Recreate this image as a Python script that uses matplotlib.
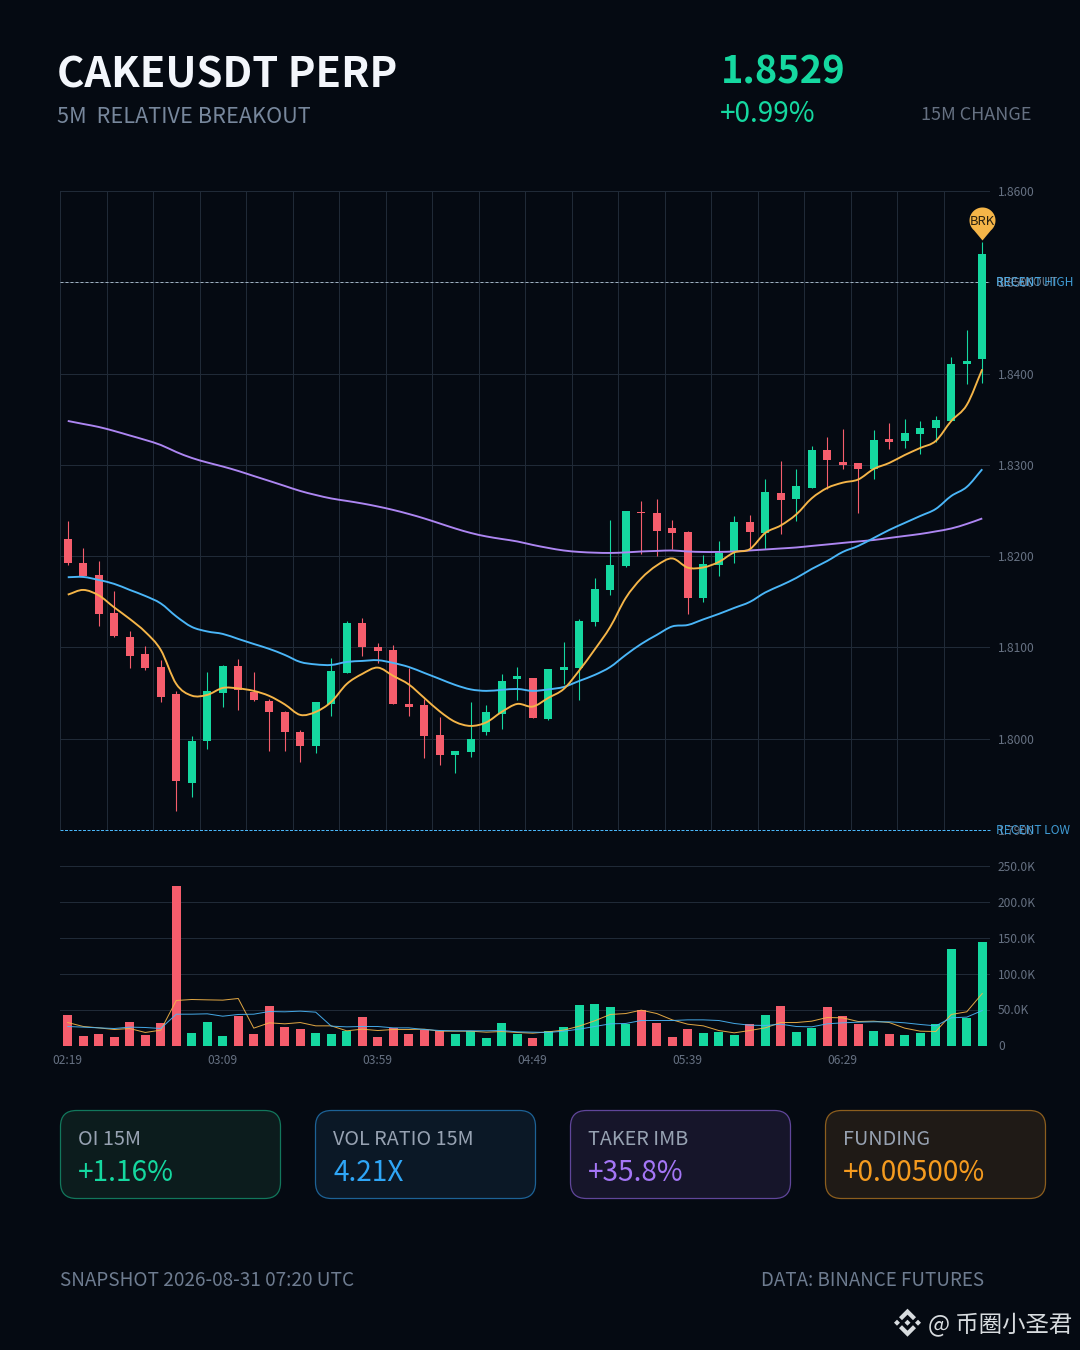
import numpy as np
import matplotlib
matplotlib.use('Agg')
import matplotlib.pyplot as plt
from matplotlib.patches import FancyBboxPatch, Polygon, PathPatch
from matplotlib.path import Path

plt.rcParams['font.family'] = ['Noto Sans CJK SC', 'DejaVu Sans']

# candles
opens = [1.8219,1.8193,1.8179,1.8138,1.8111,1.8093,1.8079,1.8049,1.7951,1.7998,
         1.8050,1.8080,1.8051,1.8041,1.8029,1.8007,1.7992,1.8038,1.8072,1.8127,
         1.8101,1.8097,1.8038,1.8037,1.8004,1.7982,1.7985,1.8007,1.8027,1.8065,
         1.8067,1.8022,1.8075,1.8077,1.8128,1.8163,1.8189,1.8248,1.8247,1.8231,
         1.8226,1.8154,1.8190,1.8205,1.8237,1.8225,1.8269,1.8263,1.8275,1.8316,
         1.8303,1.8302,1.8296,1.8328,1.8326,1.8334,1.8340,1.8348,1.8410,1.8416]
highs = [1.8239,1.8209,1.8195,1.8162,1.8118,1.8102,1.8086,1.8052,1.8003,1.8073,
         1.8081,1.8087,1.8073,1.8043,1.8030,1.8009,1.8040,1.8088,1.8129,1.8132,
         1.8105,1.8103,1.8078,1.8043,1.8024,1.7987,1.8040,1.8037,1.8071,1.8079,
         1.8067,1.8076,1.8106,1.8131,1.8176,1.8240,1.8249,1.8260,1.8263,1.8240,
         1.8228,1.8201,1.8217,1.8244,1.8245,1.8285,1.8304,1.8296,1.8321,1.8331,
         1.8339,1.8302,1.8338,1.8346,1.8350,1.8348,1.8354,1.8418,1.8448,1.8544]
lows = [1.8190,1.8178,1.8123,1.8111,1.8078,1.8075,1.8040,1.7921,1.7936,1.7989,
        1.8035,1.8031,1.8041,1.7986,1.7987,1.7975,1.7984,1.8025,1.8072,1.8091,
        1.8083,1.8038,1.8025,1.7979,1.7971,1.7962,1.7980,1.8004,1.8011,1.8042,
        1.8023,1.8021,1.8060,1.8042,1.8123,1.8157,1.8188,1.8202,1.8200,1.8208,
        1.8137,1.8150,1.8178,1.8192,1.8209,1.8208,1.8224,1.8238,1.8275,1.8274,
        1.8295,1.8247,1.8284,1.8317,1.8318,1.8312,1.8325,1.8348,1.8389,1.8390]
closes = [1.8192,1.8178,1.8137,1.8113,1.8091,1.8078,1.8046,1.7954,1.7998,1.8052,
          1.8080,1.8053,1.8042,1.8029,1.8007,1.7992,1.8040,1.8074,1.8127,1.8101,
          1.8096,1.8038,1.8035,1.8003,1.7982,1.7986,1.8000,1.8029,1.8063,1.8069,
          1.8023,1.8076,1.8079,1.8129,1.8164,1.8190,1.8249,1.8247,1.8227,1.8225,
          1.8154,1.8191,1.8203,1.8237,1.8226,1.8270,1.8261,1.8277,1.8316,1.8305,
          1.8300,1.8295,1.8327,1.8325,1.8335,1.8340,1.8349,1.8411,1.8414,1.8531]

ema_fast = [1.81578,1.8163,1.8157,1.81438,1.81312,1.8117,1.80973,1.806,1.80472,1.8048,
            1.80556,1.80551,1.80524,1.80469,1.80376,1.80261,1.80294,1.80403,1.806,1.8071,
            1.80779,1.80688,1.80595,1.80447,1.80299,1.80184,1.8014,1.80179,1.80294,1.80381,
            1.80352,1.80447,1.80545,1.80748,1.80978,1.81225,1.81542,1.81756,1.81898,1.81975,
            1.81874,1.81876,1.81936,1.82041,1.82076,1.82254,1.82336,1.82457,1.82634,1.82747,
            1.82805,1.8284,1.82955,1.83021,1.83108,1.83185,1.83262,1.83481,1.83656,1.84047]
ema_mid = [1.81769,1.81772,1.81739,1.81696,1.8163,1.81564,1.81482,1.8134,1.81225,1.81175,
           1.81148,1.81093,1.81038,1.80984,1.80918,1.80841,1.80814,1.80808,1.80841,1.80852,
           1.8086,1.8083,1.80786,1.80721,1.80655,1.80589,1.8054,1.80524,1.80535,1.80545,
           1.80524,1.8054,1.80567,1.80633,1.80699,1.80786,1.80918,1.81038,1.81137,1.8123,
           1.81246,1.81307,1.81367,1.81433,1.81498,1.81602,1.81679,1.81761,1.8186,1.81947,
           1.82046,1.82112,1.82199,1.82287,1.82364,1.8244,1.82517,1.82659,1.82758,1.82952]
ema_slow = [1.83481,1.83448,1.83415,1.83371,1.83322,1.83273,1.83218,1.83141,1.83076,1.83026,
            1.82982,1.82933,1.82878,1.82824,1.82769,1.82714,1.8267,1.82632,1.82605,1.82577,
            1.82544,1.82506,1.82462,1.82413,1.82358,1.82303,1.82254,1.82216,1.82188,1.82161,
            1.82123,1.8209,1.82062,1.82046,1.82038,1.82035,1.82041,1.82051,1.82057,1.82062,
            1.82051,1.82046,1.82046,1.82051,1.82062,1.82073,1.82084,1.82095,1.82112,1.82128,
            1.82145,1.82161,1.82177,1.82199,1.82221,1.82243,1.82271,1.82303,1.82353,1.82413]

# volume in thousands
volume = [42.1,13,15.7,12.5,33.3,14.4,30.6,221.8,17.6,32,
          13.4,41.2,15.3,54.2,25.9,23.1,16.7,15.7,20.4,38.9,
          11.6,24.5,15.7,21.8,20.4,15.7,19.9,10.2,31.5,15.3,
          10.2,19.9,25.5,56.9,57.9,52.8,29.2,49.5,31.5,12.5,
          23.6,16.7,18.5,14.8,30.1,43,54.2,18.5,24.5,53.2,
          40.7,30.1,19.9,15.7,13.9,18,30.1,134.7,38.4,143.5]
vol_fast = [31.9,26.4,24.5,22.2,23.6,18.1,21.3,62.5,63.9,63.4,
            63,65.3,24.1,31.5,30.1,31.9,27.3,27.3,20.4,22.7,
            20.8,22.2,22.2,22.7,19.9,19.9,19.9,18.5,19.4,18.1,
            17.1,19,21.3,26.9,34.3,43.1,44.4,49.1,44.4,35.6,
            29.6,27.3,20.8,17.6,20.8,24.5,31.9,31.9,33.8,38.9,
            38.4,33.3,33.8,31.9,24.1,19.9,19.4,43.1,46.8,72.2]
vol_slow = [26.4,25.5,24.5,23.6,25.5,25,23.6,43.5,43.5,44,
            40.7,43.1,43.5,47.2,46.8,47.7,46.3,26.9,25.9,26.4,
            26.4,24.5,24.5,22.2,20.8,20.4,20.4,20.4,20.8,19,
            18.5,18.1,19.9,22.7,26.4,30.1,30.6,34.7,34.7,34.7,
            35.6,35.6,34.7,30.6,28.2,27.8,29.6,26.4,25.9,30.1,
            31.5,32.4,32.9,32.9,31.5,29.2,27.3,38.4,39.4,48.6]

time_idx = [0, 10, 20, 30, 40, 50]
time_labels = ['02:19', '03:09', '03:59', '04:49', '05:39', '06:29']
price_ticks = [1.79, 1.80, 1.81, 1.82, 1.83, 1.84, 1.85, 1.86]
vol_ticks = [0, 50, 100, 150, 200, 250]
vol_tick_labels = ['0', '50.0K', '100.0K', '150.0K', '200.0K', '250.0K']
recent_high = 1.85
recent_low = 1.79

card_titles = ['OI 15M', 'VOL RATIO 15M', 'TAKER IMB', 'FUNDING']
card_values = ['+1.16%', '4.21X', '+35.8%', '+0.00500%']

BG = '#050a12'
GREEN = '#15d8a0'
RED = '#f55d6c'
GRID = '#202a37'
TICK = '#667182'
BLUE = '#4ab6f8'
ORANGE = '#f5b548'
PURPLE = '#ad86f2'

W, H = 1080, 1350
fig = plt.figure(figsize=(W / 100, H / 100), dpi=100, facecolor=BG)


def px(size):
    return size * 0.72


def rect(x0, y0, x1, y1):
    return [x0 / W, 1 - y1 / H, (x1 - x0) / W, (y1 - y0) / H]


def smooth_line(axis, xs, ys, color, lw, zorder):
    # same points, curved joins like the original's smoothed lines
    xs = np.asarray(xs, float)
    ys = np.asarray(ys, float)
    dy = np.gradient(ys)
    verts = [(xs[0], ys[0])]
    codes = [Path.MOVETO]
    for i in range(len(xs) - 1):
        verts += [(xs[i] + 1 / 3, ys[i] + dy[i] / 3),
                  (xs[i + 1] - 1 / 3, ys[i + 1] - dy[i + 1] / 3),
                  (xs[i + 1], ys[i + 1])]
        codes += [Path.CURVE4] * 3
    axis.add_patch(PathPatch(Path(verts, codes), fc='none', ec=color, lw=lw, zorder=zorder))


# page layer in pixel coordinates
page = fig.add_axes([0, 0, 1, 1])
page.set_xlim(0, W)
page.set_ylim(H, 0)
page.axis('off')

page.text(57, 88, 'CAKEUSDT PERP', color='#f3f6fb', fontsize=px(41.7), fontweight='bold')
page.text(57, 123, '5M  RELATIVE BREAKOUT', color='#77879c', fontsize=px(21.7))
page.text(721, 84, '1.8529', color=GREEN, fontsize=px(38), fontweight='bold')
page.text(720, 122, '+0.99%', color=GREEN, fontsize=px(28))
page.text(921, 120, '15M CHANGE', color='#667182', fontsize=px(18))

card_x = [60.5, 315.5, 570.5, 825.5]
card_fill = ['#0c1c1d', '#0b1826', '#16152a', '#1f1a16']
card_edge = ['#12775c', '#1d6296', '#60469a', '#8c5e1e']
card_text = ['#15d8a0', '#2fa6f6', '#a476f6', '#f59b1f']
for i in range(4):
    page.add_patch(FancyBboxPatch((card_x[i] + 16, 1110.5 + 16), 220 - 32, 88 - 32,
                                  boxstyle='round,pad=16,rounding_size=16',
                                  fc=card_fill[i], ec=card_edge[i], lw=0.9))
    page.text(card_x[i] + 17.5, 1145, card_titles[i], color='#97a2b2', fontsize=px(19.8))
    page.text(card_x[i] + 17.5, 1181, card_values[i], color=card_text[i], fontsize=px(28))

page.text(60, 1286, 'SNAPSHOT 2026-08-31 07:20 UTC', color='#6e7c90', fontsize=px(19))
page.text(761, 1286, 'DATA: BINANCE FUTURES', color='#6e7c90', fontsize=px(18.8))

# watermark logo
WM = '#d8dcdf'
cx, cy = 907.5, 1322.7
page.add_patch(Polygon([(cx, cy - 14), (cx + 8.5, cy - 5.5), (cx + 5.5, cy - 2.5), (cx, cy - 8), (cx - 5.5, cy - 2.5), (cx - 8.5, cy - 5.5)], fc=WM, ec='none'))
page.add_patch(Polygon([(cx, cy + 14), (cx + 8.5, cy + 5.5), (cx + 5.5, cy + 2.5), (cx, cy + 8), (cx - 5.5, cy + 2.5), (cx - 8.5, cy + 5.5)], fc=WM, ec='none'))
page.add_patch(Polygon([(cx, cy - 3), (cx + 3, cy), (cx, cy + 3), (cx - 3, cy)], fc=WM, ec='none'))
page.add_patch(Polygon([(cx - 10.5, cy - 3), (cx - 7.5, cy), (cx - 10.5, cy + 3), (cx - 13.5, cy)], fc=WM, ec='none'))
page.add_patch(Polygon([(cx + 10.5, cy - 3), (cx + 13.5, cy), (cx + 10.5, cy + 3), (cx + 7.5, cy)], fc=WM, ec='none'))
page.text(928, 1332, '@ 币圈小圣君', color=WM, fontsize=px(23.4))

# price panel
ax = fig.add_axes(rect(60, 191, 990, 830))
ax.patch.set_alpha(0)
x = np.arange(len(closes))
colors = [GREEN if c >= o else RED for o, c in zip(opens, closes)]
o_arr = np.array(opens)
c_arr = np.array(closes)

ax.vlines(x, lows, highs, colors=colors, lw=px(1.1), zorder=3)
ax.bar(x, np.abs(c_arr - o_arr), bottom=np.minimum(o_arr, c_arr), width=0.52, color=colors, zorder=3)
smooth_line(ax, x, ema_slow, PURPLE, px(1.9), 4)
smooth_line(ax, x, ema_mid, BLUE, px(1.9), 4)
smooth_line(ax, x, ema_fast, ORANGE, px(1.9), 5)

ax.axhline(recent_high, color='#9fb0c0', lw=px(1), dashes=(3, 2), zorder=2)
ax.axhline(recent_low, color=BLUE, lw=px(1), dashes=(3, 1.5), zorder=6, clip_on=False)

ax.set_xlim(-0.5, 59.5)
ax.set_ylim(1.79, 1.86)
ax.set_xticks(np.arange(-0.5, 60, 3))
ax.set_yticks(price_ticks)
ax.set_yticklabels(['%.4f' % p for p in price_ticks])
ax.yaxis.tick_right()
ax.tick_params(axis='both', length=0, labelbottom=False, labelsize=px(12), labelcolor=TICK, pad=px(8))
ax.grid(True, color=GRID, lw=px(1), zorder=0)
ax.set_axisbelow(True)
for s in ax.spines.values():
    s.set_visible(False)

for level, lab in [(recent_high, 'BREAKOUT'), (recent_high, 'RECENT HIGH'), (recent_low, 'RECENT LOW')]:
    col = '#7d8b9a' if lab == 'BREAKOUT' else BLUE
    ax.annotate(lab, xy=(1, level), xycoords=('axes fraction', 'data'), xytext=(px(6), 0),
                textcoords='offset points', color=col, fontsize=px(12), va='center', alpha=0.85)

# breakout pin, tip sits just over the last wick
a = np.radians(np.linspace(-50, 230, 40))
pin_x = [0] + list(13 * np.cos(a)) + [0]
pin_y = [2] + list(22 + 13 * np.sin(a)) + [2]
pin = Path(np.column_stack([pin_x, pin_y]), closed=True)
ax.plot([x[-1]], [highs[-1]], marker=pin, ms=px(70), color=ORANGE, mew=0, zorder=7, clip_on=False)
ax.annotate('BRK', xy=(x[-1], highs[-1]), xytext=(0, px(21)), textcoords='offset points',
            ha='center', va='center', color='#2a2110', fontsize=px(13), zorder=8)

# volume panel
vx = fig.add_axes(rect(60, 865.5, 990, 1045.5))
vx.patch.set_alpha(0)
vx.bar(x, volume, width=0.56, color=colors, zorder=3)
vx.plot(x, vol_fast, color=ORANGE, lw=px(1), alpha=0.9, zorder=4)
vx.plot(x, vol_slow, color=BLUE, lw=px(1), alpha=0.9, zorder=4)
vx.set_xlim(-0.5, 59.5)
vx.set_ylim(0, 250)
vx.set_yticks(vol_ticks)
vx.set_yticklabels(vol_tick_labels)
vx.set_xticks(time_idx)
vx.set_xticklabels(time_labels)
vx.yaxis.tick_right()
vx.tick_params(axis='both', length=0, labelsize=px(12), labelcolor=TICK, pad=px(8))
vx.grid(True, axis='y', color=GRID, lw=px(1), zorder=0)
vx.set_axisbelow(True)
for s in vx.spines.values():
    s.set_visible(False)

fig.savefig('out.png', dpi=100, facecolor=BG)
